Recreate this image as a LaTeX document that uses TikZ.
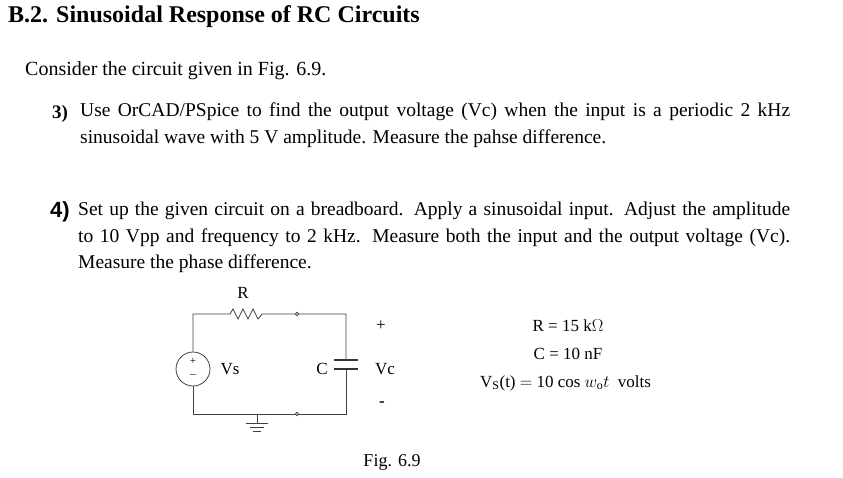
\documentclass[tikz,border=0pt]{standalone}
\usepackage{fontspec}
\setmainfont{Liberation Serif}
\setsansfont{Liberation Sans}
\hyphenpenalty=10000\relax
\exhyphenpenalty=10000\relax
\begin{document}
\begin{tikzpicture}[x=1pt,y=-1pt,
  wire/.style={line width=0.8pt,draw=black!75},
  term/.style={circle,draw=black!75,line width=0.7pt,fill=white,inner sep=1.1pt},
  lbl/.style={font=\fontsize{17}{18}\selectfont,inner sep=0pt},
  para/.style={anchor=north west,inner sep=0pt,text width=710pt,align=justify,font=\fontsize{19.5}{26.5}\selectfont}]
\useasboundingbox (0,0) rectangle (843,477);
\node[anchor=base west,inner sep=0pt,font=\bfseries\fontsize{24}{26}\selectfont] (h) at (8,22) {B.2. Sinusoidal Response of RC Circuits};
\node[anchor=base west,inner sep=0pt,font=\fontsize{20}{22}\selectfont] (c) at (25,75) {Consider the circuit given in Fig. 6.9.};
\node[anchor=base west,inner sep=0pt,font=\bfseries\fontsize{19}{20}\selectfont] (n3) at (52,118) {3)};
\node[para] (p3) at (80,103) {\hyphenpenalty=10000\relax Use OrCAD/PSpice to find the output voltage (Vc) when the input is a periodic 2 kHz sinusoidal wave with 5 V amplitude. Measure the pahse difference.};
\node[anchor=base west,inner sep=0pt,font=\sffamily\bfseries\fontsize{22}{24}\selectfont] (n4) at (50,217) {4)};
\node[para,text width=712pt] (p4) at (78,202) {Set up the given circuit on a breadboard. Apply a sinusoidal input. Adjust the amplitude to 10 Vpp and frequency to 2 kHz. Measure both the input and the output voltage (Vc). Measure the phase difference.};
% circuit
\coordinate (tl) at (193,314); \coordinate (bl) at (193,414);
\coordinate (tr) at (346,314); \coordinate (br) at (346,414);
\coordinate (r1) at (230,314); \coordinate (r2) at (265,314);
\node[circle,draw=black!75,line width=0.8pt,minimum size=34pt,inner sep=0pt] (vs) at (193,369) {};
\node[font=\fontsize{11}{11}\selectfont,inner sep=0pt] (vp) at (193,361) {+};
\node[font=\fontsize{11}{11}\selectfont,inner sep=0pt] (vm) at (193,376) {--};
\coordinate (cp1) at (346,360); \coordinate (cp2) at (346,369);
\node[term] (t1) at (297,314) {};
\node[term] (t2) at (297,414) {};
\coordinate (g) at (257,414); \coordinate (g1) at (257,423);
\draw[wire] (vs.north) -- (tl) -- (r1)
  -- ++(3,-5) -- ++(5,10) -- ++(5,-10) -- ++(5,10) -- ++(5,-10) -- ++(5,10) -- ++(4,-5) -- (r2) -- (t1) -- (tr) -- (cp1);
\draw[wire] (cp2) -- (br) -- (t2) -- (bl) -- (vs.south);
\draw[line width=1.6pt,draw=black!80] (334,360) -- (358,360) (334,369) -- (358,369);
\draw[wire] (g) -- (g1);
\draw[wire] (246,423) -- (268,423) (250,427) -- (264,427) (253,431) -- (261,431);
\node[term] at (297,314) {};
\node[term] at (297,414) {};
\node[lbl] (lr) at (243,293) {R};
\node[lbl] (lvs) at (230,369) {V\textsc{s}};
\node[lbl] (lc) at (322,369) {C};
\node[lbl] (lvc) at (385,369) {V\textsc{c}};
\node[lbl] (pl) at (381,326) {+};
\node[lbl,font=\bfseries\fontsize{17}{18}\selectfont] (mi) at (382,404) {-};
\node[lbl] (fr) at (568,326) {R = 15 k$\Omega$};
\node[lbl] (fc) at (568,354) {C = 10 nF};
\node[lbl,anchor=west] (fv) at (480,383) {V$_\mathrm{S}$(t) $=$ 10 cos $w_\mathrm{o}t$\ \ volts};
\node[lbl,font=\fontsize{18}{19}\selectfont] (fig) at (392,462) {Fig. 6.9};
\end{tikzpicture}
\end{document}
